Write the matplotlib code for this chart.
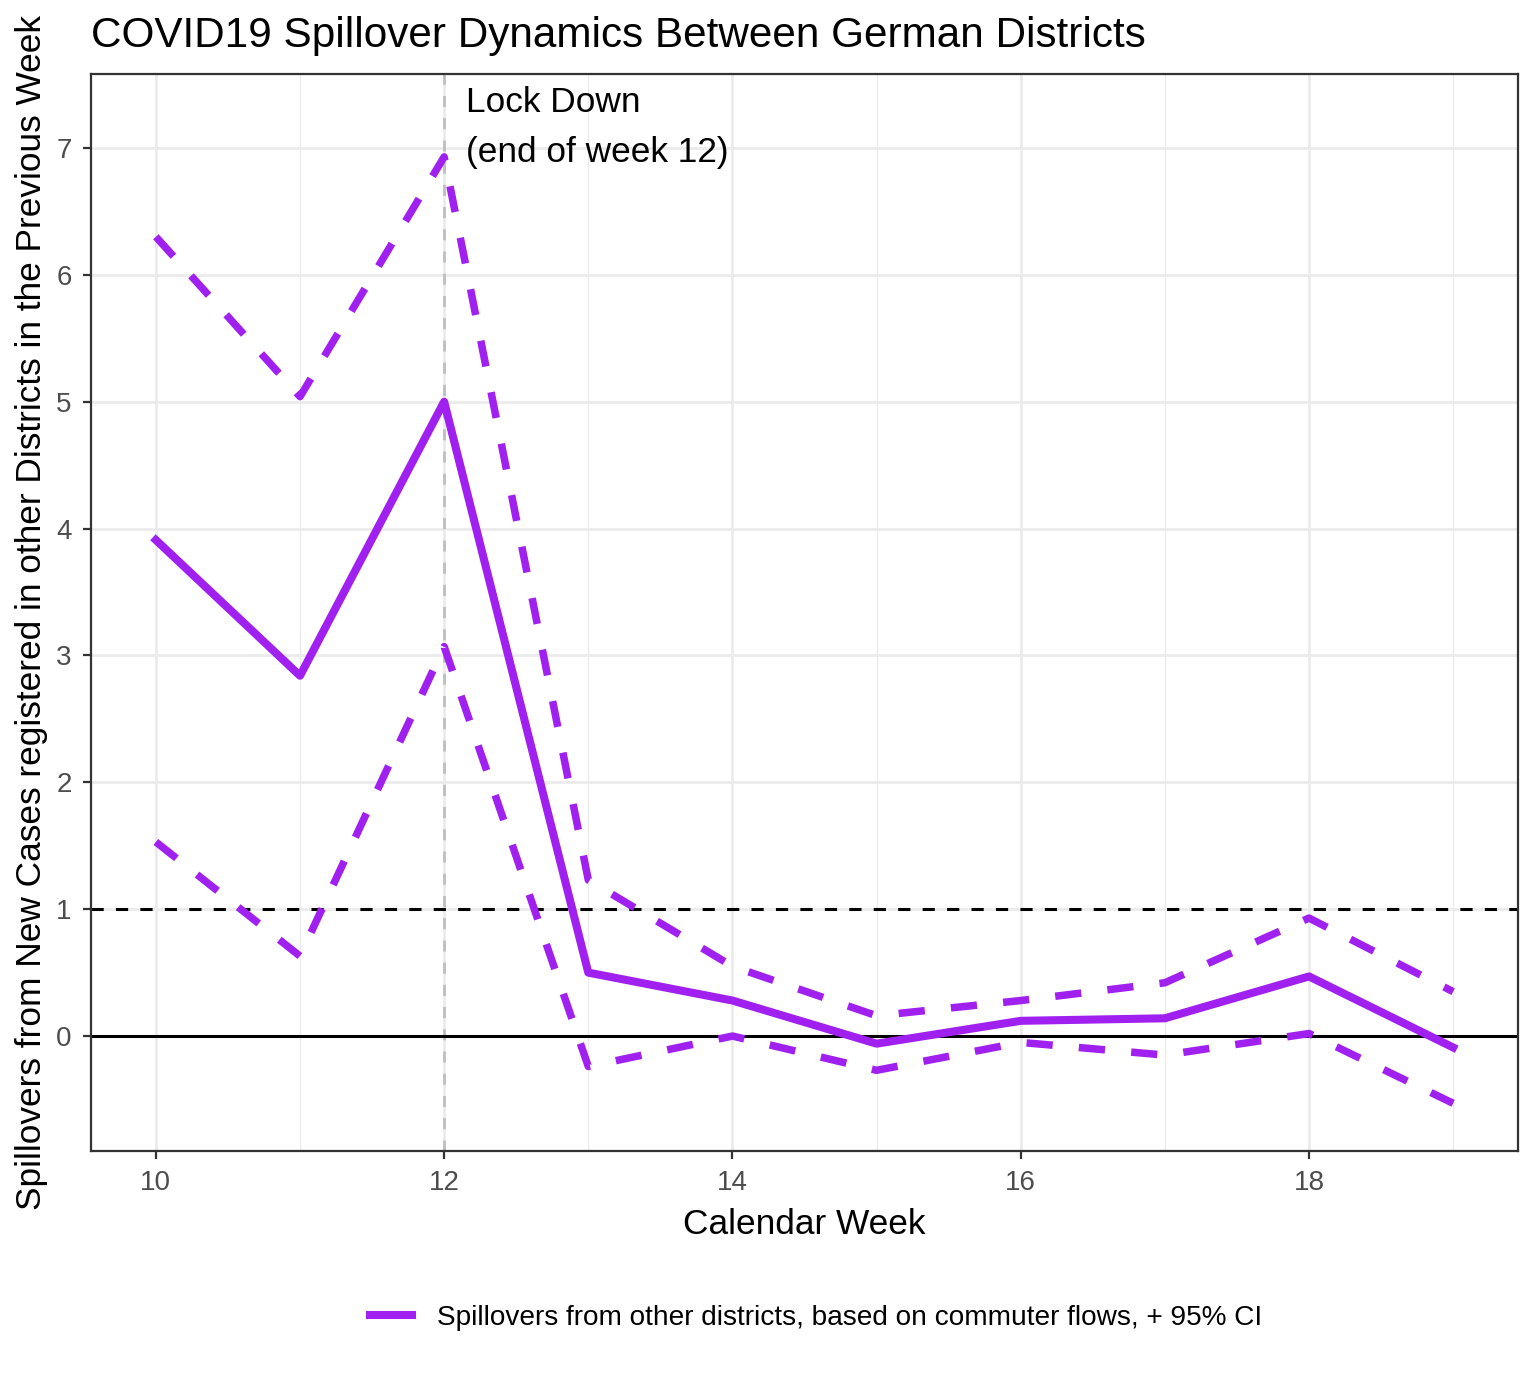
import matplotlib.pyplot as plt
from matplotlib.lines import Line2D

plt.rcParams["font.family"] = ["Liberation Sans", "DejaVu Sans"]

weeks = [10, 11, 12, 13, 14, 15, 16, 17, 18, 19]
estimate = [3.91, 2.84, 5.00, 0.50, 0.28, -0.06, 0.12, 0.14, 0.47, -0.09]
upper = [6.30, 5.04, 6.93, 1.23, 0.55, 0.16, 0.28, 0.42, 0.93, 0.35]
lower = [1.53, 0.63, 3.07, -0.24, 0.00, -0.27, -0.05, -0.15, 0.02, -0.53]

purple = "#A020F0"
legend_label = "Spillovers from other districts, based on commuter flows, + 95% CI"

fig = plt.figure(figsize=(7.68, 6.9), dpi=200)
ax = fig.add_axes([91 / 1536, 1 - 1151 / 1380, (1518 - 91) / 1536, (1151 - 74) / 1380])

# grid like theme_bw
for x in range(10, 20):
    ax.axvline(x, color="#ebebeb", lw=0.5 if x % 2 else 1.0, zorder=0)
for y in range(0, 8):
    ax.axhline(y, color="#ebebeb", lw=1.0, zorder=0)

ax.axhline(0, color="black", lw=1.1, zorder=2)
ax.axhline(1, color="black", lw=1.1, ls=(0, (4, 4)), zorder=2)
ax.axvline(12, color="#bebebe", lw=1.0, ls=(0, (4, 4)), zorder=1)

dash = (0, (3.5, 3.5))
ax.plot(weeks, upper, color=purple, lw=2.7, ls=dash, zorder=3)
ax.plot(weeks, lower, color=purple, lw=2.7, ls=dash, zorder=3)
ax.plot(weeks, estimate, color=purple, lw=2.9, zorder=4)

ax.text(12.15, 7.49, "Lock Down\n(end of week 12)", ha="left", va="top",
        fontsize=12.7, linespacing=1.68, color="black")

ax.set_xlim(9.55, 19.45)
ax.set_ylim(-0.906, 7.583)
ax.set_xticks([10, 12, 14, 16, 18])
ax.set_yticks(range(0, 8))
ax.tick_params(labelsize=10, colors="#333333", length=3, width=0.8, pad=4)
ax.tick_params(labelcolor="#4d4d4d")
for s in ax.spines.values():
    s.set_color("#333333")
    s.set_linewidth(0.8)

ax.set_xlabel("Calendar Week", fontsize=12.7, labelpad=4)
ax.set_ylabel("Spillovers from New Cases registered in other Districts in the Previous Week",
              fontsize=12.7)
ax.yaxis.set_label_coords(-0.030, 0.5)
fig.text(91 / 1536, 1 - 36 / 1380, "COVID19 Spillover Dynamics Between German Districts",
         fontsize=15.2, ha="left", va="center")

handle = Line2D([], [], color=purple, lw=2.9)
fig.legend([handle], [legend_label], loc="center", bbox_to_anchor=(816 / 1536, 1 - 1318 / 1380),
           frameon=False, fontsize=10.1, handlelength=1.5, handletextpad=0.9)

fig.savefig("out.png", dpi=200)
